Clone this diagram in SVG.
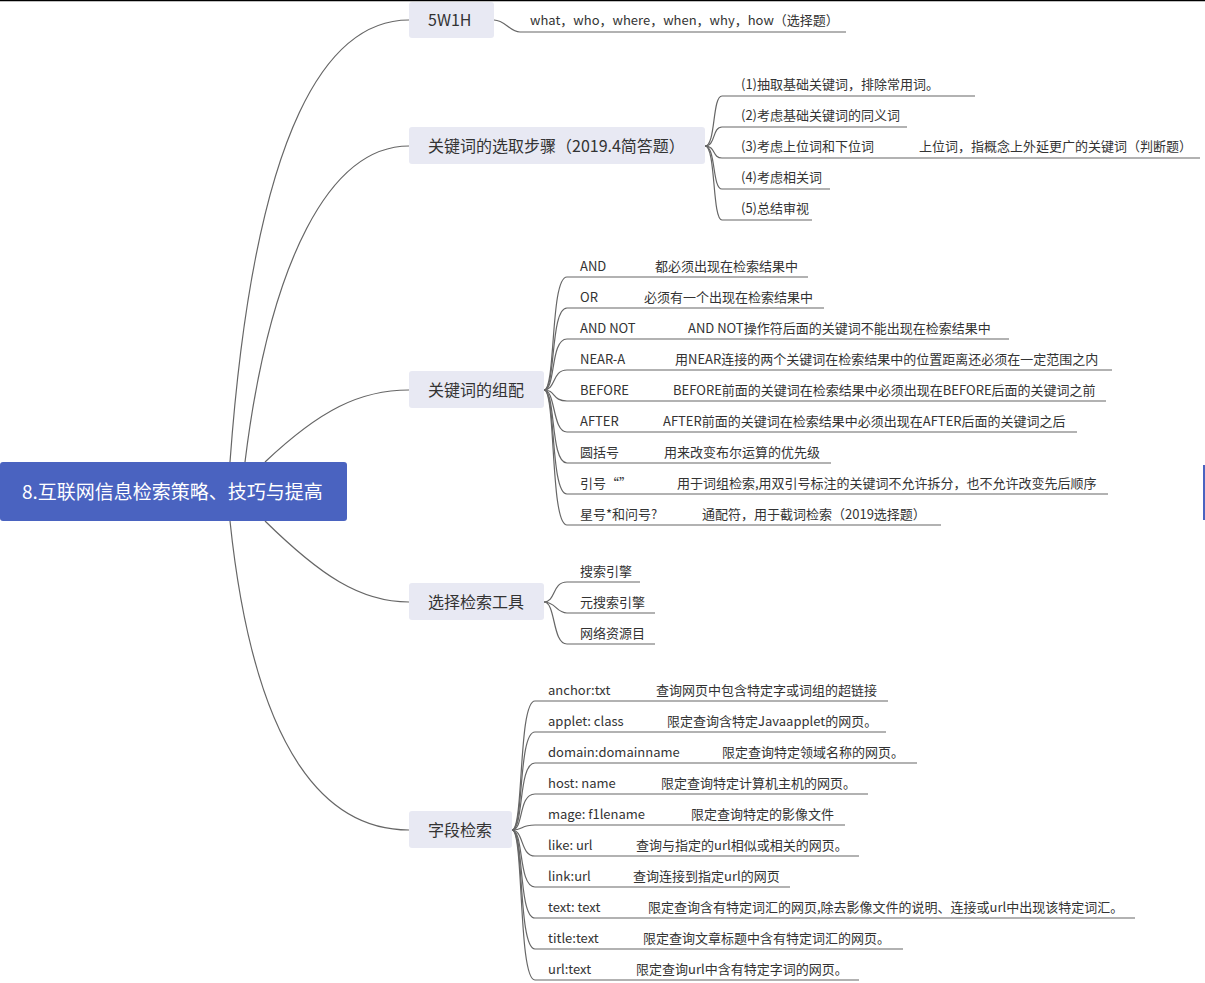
<svg xmlns="http://www.w3.org/2000/svg" width="1205" height="983" viewBox="0 0 1205 983">
<style>
text{font-family:"Microsoft YaHei","Noto Sans CJK SC","Liberation Sans",sans-serif;fill:#333;font-size:13px}
.b{fill:#e8e9f3}
.bt{font-size:16px}
.c path,.c line{fill:none;stroke:#666;stroke-width:1.2}
</style>
<rect width="1205" height="983" fill="#fff"/>
<line x1="0" y1="0.5" x2="1205" y2="0.5" stroke="#000" stroke-width="1.5"/>
<rect x="1203" y="465" width="2" height="55" fill="#4a63c0"/>
<g class="c">
<path d="M230 462 C255 120 330 20 409 20"/>
<path d="M245 462 C270 260 330 146 409 146"/>
<path d="M265 462 C320 410 360 390 409 390"/>
<path d="M265 521 C320 575 360 602 409 602"/>
<path d="M230 521 C255 760 330 830 409 830"/>
<path d="M494 20 C505 20 510 32 520 32 H846"/>
<path d="M705 146 C716 146 712 96 722 96 H975"/><path d="M705 146 C716 146 712 127 722 127 H907"/><path d="M705 146 C716 146 712 158 722 158 H1200"/><path d="M705 146 C716 146 712 189 722 189 H830"/><path d="M705 146 C716 146 712 220 722 220 H812"/>
<path d="M544 390 C556 390 550 277 567 277 H808"/><path d="M544 390 C556 390 550 308 567 308 H824"/><path d="M544 390 C556 390 550 339 567 339 H1009"/><path d="M544 390 C556 390 552 370 567 370 H1112"/><path d="M544 390 C556 390 552 401 567 401 H1106"/><path d="M544 390 C556 390 552 432 567 432 H1077"/><path d="M544 390 C556 390 550 463 567 463 H831"/><path d="M544 390 C556 390 550 494 567 494 H1108"/><path d="M544 390 C556 390 550 525 567 525 H941"/>
<path d="M544 602 C556 602 552 582 567 582 H640"/><path d="M544 602 C556 602 556 613 567 613 H655"/><path d="M544 602 C556 602 552 644 567 644 H655"/>
<path d="M512 830 C524 830 518 701 535 701 H888"/><path d="M512 830 C524 830 518 732 535 732 H886"/><path d="M512 830 C524 830 518 763 535 763 H917"/><path d="M512 830 C524 830 518 794 535 794 H868"/><path d="M512 830 C524 830 520 825 535 825 H845"/><path d="M512 830 C524 830 520 856 535 856 H859"/><path d="M512 830 C524 830 518 887 535 887 H790"/><path d="M512 830 C524 830 518 918 535 918 H1135"/><path d="M512 830 C524 830 518 949 535 949 H903"/><path d="M512 830 C524 830 518 980 535 980 H859"/>
</g>
<g id="root"><rect x="0" y="462" width="347" height="59" rx="3" fill="#4a63c0"/><text x="22" y="499" style="fill:#fff;font-size:19px">8.互联网信息检索策略、技巧与提高</text></g>
<g id="n1"><rect class="b" x="409" y="2" width="85" height="36" rx="3"/><text class="bt" x="428" y="26">5W1H</text></g>
<g id="n2"><rect class="b" x="409" y="127" width="296" height="37" rx="3"/><text class="bt" x="428" y="152">关键词的选取步骤（2019.4简答题）</text></g>
<g id="n3"><rect class="b" x="409" y="371" width="135" height="37" rx="3"/><text class="bt" x="428" y="396">关键词的组配</text></g>
<g id="n4"><rect class="b" x="409" y="583" width="135" height="37" rx="3"/><text class="bt" x="428" y="608">选择检索工具</text></g>
<g id="n5"><rect class="b" x="409" y="811" width="103" height="37" rx="3"/><text class="bt" x="428" y="836">字段检索</text></g>
<g id="leaves">
<text x="530" y="25">what，who，where，when，why，how（选择题）</text>
<text x="741" y="89">(1)抽取基础关键词，排除常用词。</text>
<text x="741" y="120">(2)考虑基础关键词的同义词</text>
<text x="741" y="151">(3)考虑上位词和下位词</text><text x="919" y="151">上位词，指概念上外延更广的关键词（判断题）</text>
<text x="741" y="182">(4)考虑相关词</text>
<text x="741" y="213">(5)总结审视</text>
<text x="580" y="271">AND</text><text x="655" y="271">都必须出现在检索结果中</text>
<text x="580" y="302">OR</text><text x="644" y="302">必须有一个出现在检索结果中</text>
<text x="580" y="333">AND NOT</text><text x="688" y="333">AND NOT操作符后面的关键词不能出现在检索结果中</text>
<text x="580" y="364">NEAR-A</text><text x="675" y="364">用NEAR连接的两个关键词在检索结果中的位置距离还必须在一定范围之内</text>
<text x="580" y="395">BEFORE</text><text x="673" y="395">BEFORE前面的关键词在检索结果中必须出现在BEFORE后面的关键词之前</text>
<text x="580" y="426">AFTER</text><text x="663" y="426">AFTER前面的关键词在检索结果中必须出现在AFTER后面的关键词之后</text>
<text x="580" y="457">圆括号</text><text x="664" y="457">用来改变布尔运算的优先级</text>
<text x="580" y="488">引号“”</text><text x="677" y="488">用于词组检索,用双引号标注的关键词不允许拆分，也不允许改变先后顺序</text>
<text x="580" y="519">星号*和问号?</text><text x="702" y="519">通配符，用于截词检索（2019选择题）</text>
<text x="580" y="576">搜索引擎</text>
<text x="580" y="607">元搜索引擎</text>
<text x="580" y="638">网络资源目</text>
<text x="548" y="695">anchor:txt</text><text x="656" y="695">查询网页中包含特定字或词组的超链接</text>
<text x="548" y="726">applet: class</text><text x="667" y="726">限定查询含特定Javaapplet的网页。</text>
<text x="548" y="757">domain:domainname</text><text x="722" y="757">限定查询特定领域名称的网页。</text>
<text x="548" y="788">host: name</text><text x="661" y="788">限定查询特定计算机主机的网页。</text>
<text x="548" y="819">mage: f1lename</text><text x="691" y="819">限定查询特定的影像文件</text>
<text x="548" y="850">like: url</text><text x="636" y="850">查询与指定的url相似或相关的网页。</text>
<text x="548" y="881">link:url</text><text x="633" y="881">查询连接到指定url的网页</text>
<text x="548" y="912">text: text</text><text x="648" y="912">限定查询含有特定词汇的网页,除去影像文件的说明、连接或url中出现该特定词汇。</text>
<text x="548" y="943">title:text</text><text x="643" y="943">限定查询文章标题中含有特定词汇的网页。</text>
<text x="548" y="974">url:text</text><text x="636" y="974">限定查询url中含有特定字词的网页。</text>
</g>
</svg>
